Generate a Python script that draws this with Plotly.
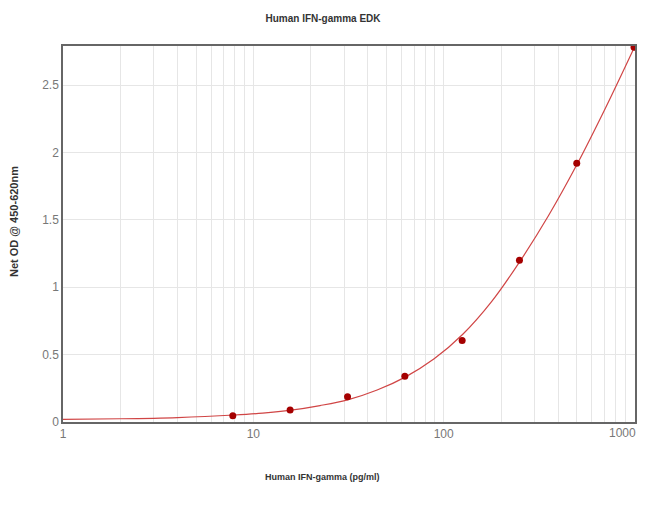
import plotly.graph_objects as go

# standard points (pg/ml, net OD)
conc = [7.8, 15.6, 31.25, 62.5, 125, 250, 500, 1000]
od = [0.047, 0.089, 0.187, 0.34, 0.605, 1.20, 1.92, 2.78]

# fitted curve
fit_x = [1, 2, 4, 7.94, 11.2, 15.8, 22.4, 31.6, 44.7, 63.1, 89.1, 126, 178, 251, 355,
         501, 708, 1000]
fit_y = [0.02, 0.024, 0.033, 0.052, 0.066, 0.088, 0.122, 0.166, 0.237, 0.335, 0.469,
         0.651, 0.891, 1.19, 1.53, 1.91, 2.33, 2.775]

x_ticks = [m * 10 ** k for k in range(3) for m in range(1, 10)] + [1000]
x_labels = [str(v) if v in (1, 10, 100, 1000) else "" for v in x_ticks]
y_ticks = [0, 0.5, 1, 1.5, 2, 2.5]
y_labels = ["0", "0.5", "1", "1.5", "2", "2.5"]

fig = go.Figure()
fig.add_trace(go.Scatter(
    x=fit_x, y=fit_y, mode="lines", line=dict(color="#d04545", width=1.2, shape="spline"),
    hoverinfo="skip",
))
fig.add_trace(go.Scatter(
    x=conc, y=od, mode="markers", marker=dict(color="#a50000", size=7),
))

tick_font = dict(family="Liberation Sans", size=12, color="#777777")
# last label sits at the right edge, drawn separately so it is not cut off
fig.update_xaxes(
    type="log", range=[0, 3.005], tickvals=x_ticks, ticktext=x_labels[:-1] + [""],
    showgrid=True, gridcolor="#e6e6e6", gridwidth=1,
    showline=True, linecolor="#666666", linewidth=1.5, mirror=True,
    ticks="", tickfont=tick_font, zeroline=False, automargin=False,
)
fig.update_yaxes(
    range=[0, 2.79], tickvals=y_ticks, ticktext=y_labels,
    showgrid=True, gridcolor="#e6e6e6", gridwidth=1,
    showline=True, linecolor="#666666", linewidth=1.5, mirror=True,
    ticks="", tickfont=tick_font, zeroline=False, automargin=False,
)

# page body adds an 8px offset on each side, so the figure is drawn smaller
fig.update_layout(
    width=634, height=491,
    margin=dict(l=55, r=7, t=38, b=77, autoexpand=False),
    plot_bgcolor="white", paper_bgcolor="white",
    showlegend=False,
    title=dict(
        text="<b>Human IFN-gamma EDK</b>", x=(323 - 8) / 634, xanchor="center",
        y=1 - 10 / 491, yanchor="middle", yref="container",
        font=dict(family="Liberation Sans", size=10, color="#333333"),
    ),
    annotations=[
        dict(text=x_labels[-1], xref="x", yref="paper", x=3, y=0, xanchor="right",
             yanchor="top", xshift=4, yshift=-2, showarrow=False, font=tick_font),
        dict(text="<b>Human IFN-gamma (pg/ml)</b>", xref="paper", yref="paper",
             x=(322 - 63) / 572, y=-55 / 376, showarrow=False, yanchor="middle",
             font=dict(family="Liberation Sans", size=9, color="#333333")),
        dict(text="<b>Net OD @ 450-620nm</b>", xref="paper", yref="paper",
             x=-49 / 572, y=(422 - 222) / 376, textangle=-90, showarrow=False,
             xanchor="center", yanchor="middle",
             font=dict(family="Liberation Sans", size=11, color="#333333")),
    ],
)

fig.write_html("out.html")
